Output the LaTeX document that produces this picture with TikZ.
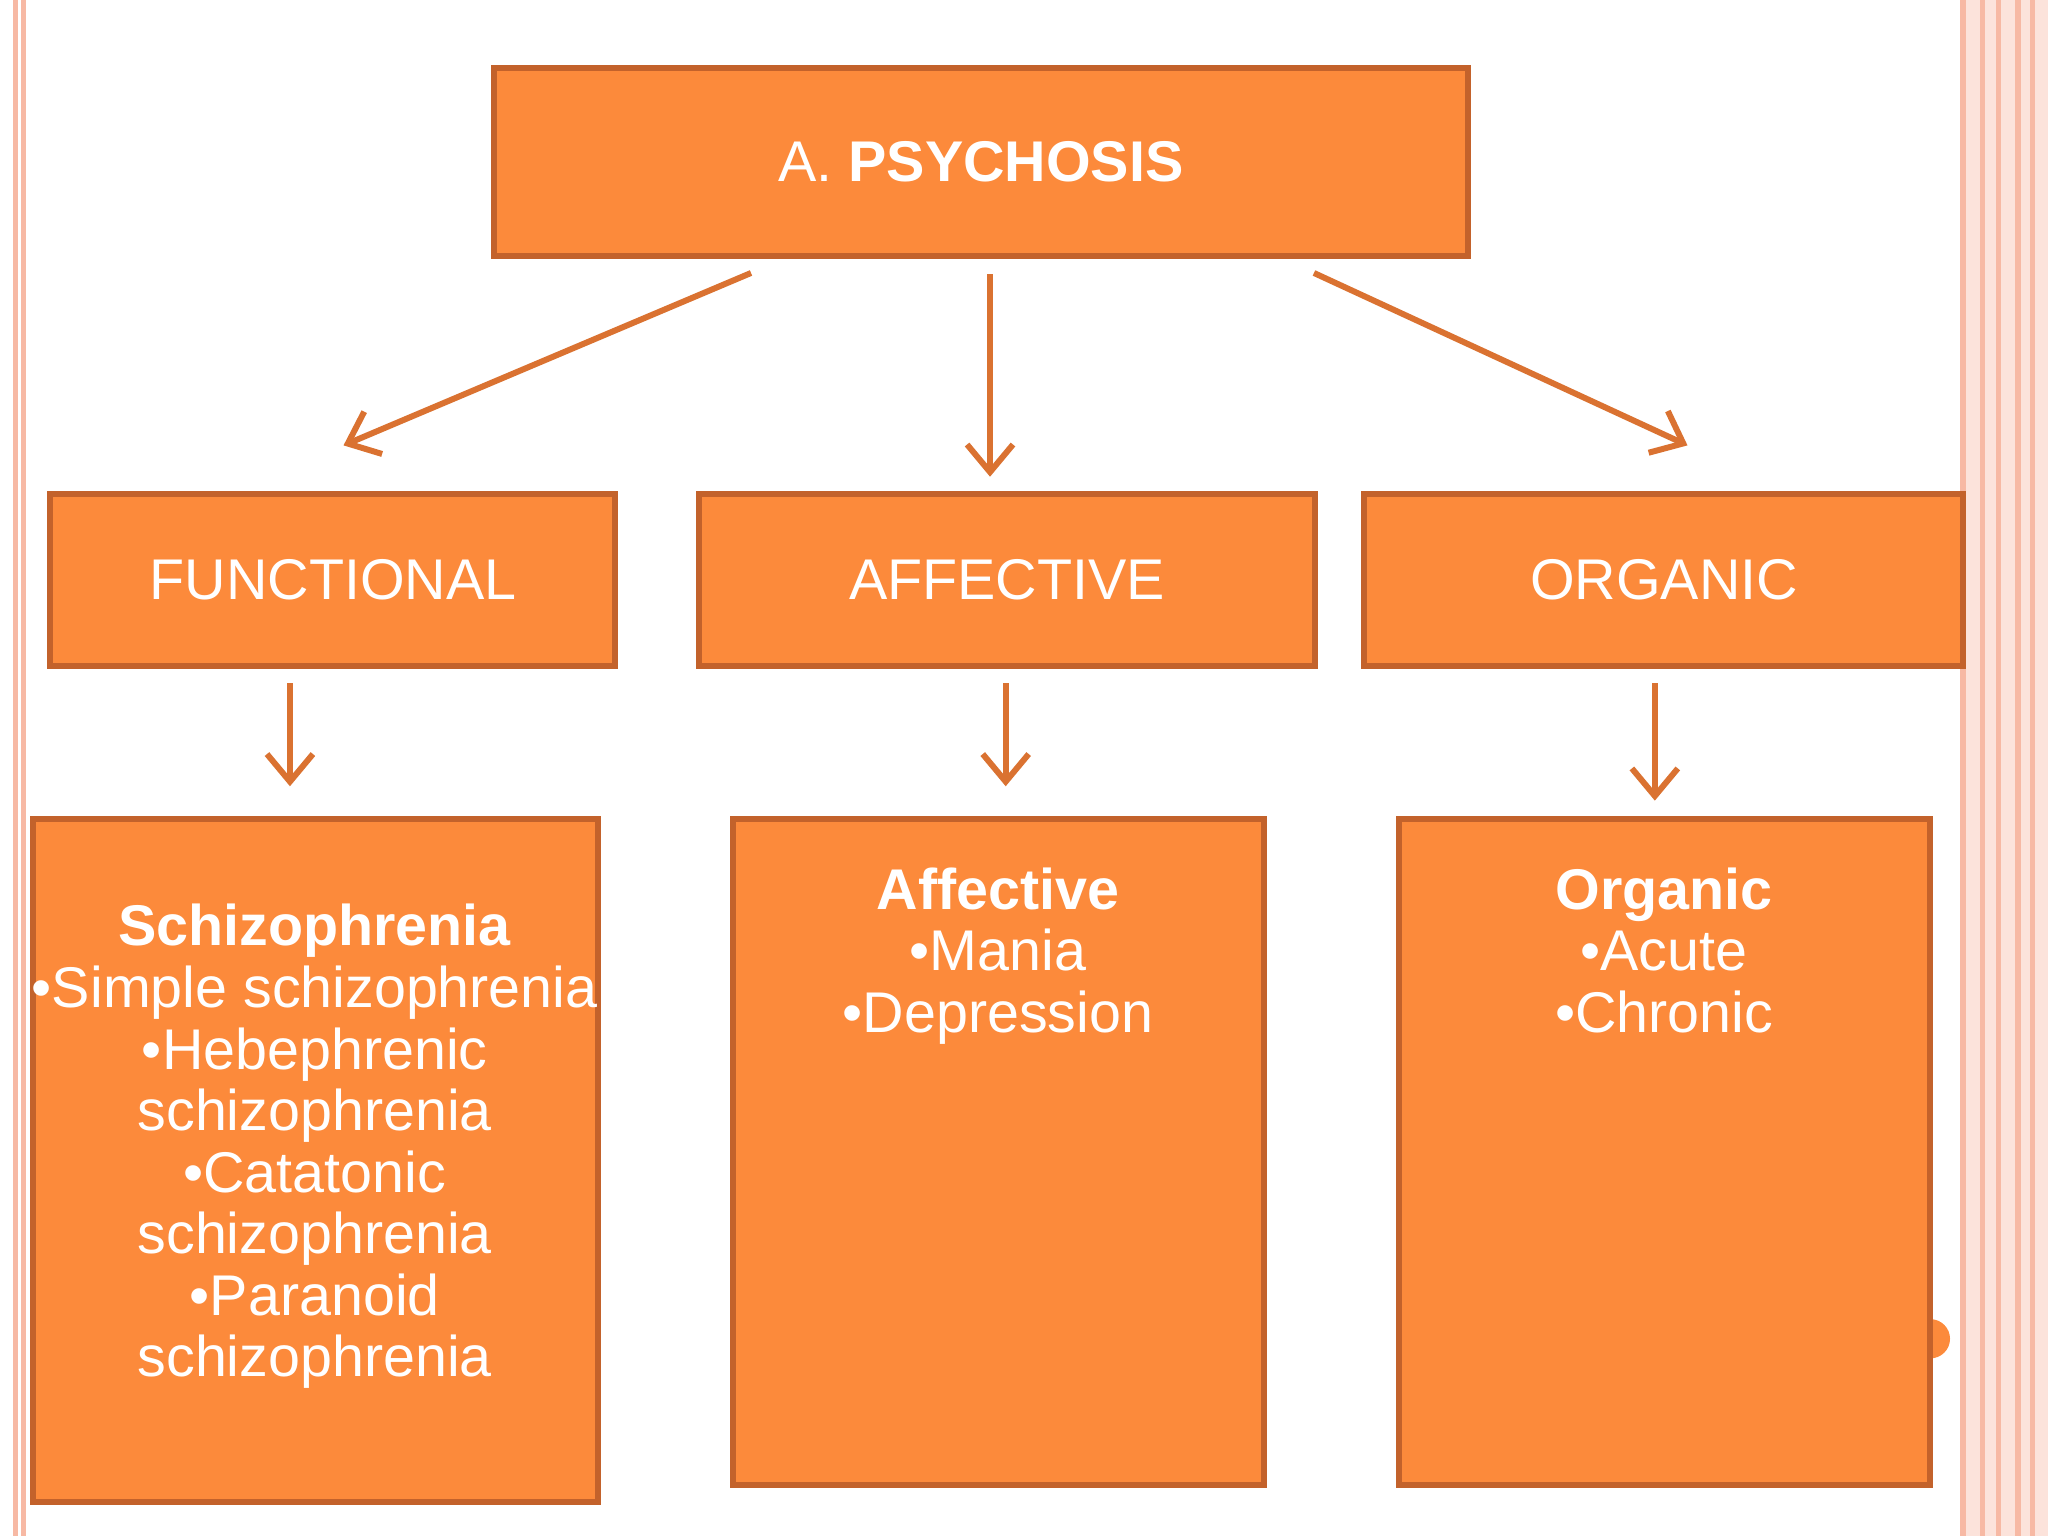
\documentclass[tikz,border=0pt]{standalone}
\usepackage{fontspec}
\setmainfont{Liberation Sans}
\usetikzlibrary{arrows.meta}
\definecolor{boxfill}{HTML}{FC8A3B}
\definecolor{boxline}{HTML}{C3622B}
\definecolor{stripe}{HTML}{F7B9A4}
\begin{document}
\begin{tikzpicture}[x=0.01cm,y=-0.01cm,
    box/.style={draw=boxline,line width=1.3pt,fill=boxfill},
    label/.style={text=white,font=\fontsize{12.5pt}{13.4pt}\selectfont,align=center},
    link/.style={draw=boxline!60!boxfill,line width=1.3pt,-{Straight Barb[length=6pt,width=10pt]}}]
  \useasboundingbox (0,0) rectangle (1568,1176);
  % page stripes
  \draw[stripe,line width=1pt] (12,0) -- (12,1176) (18,0) -- (18,1176);
  \fill[stripe!40] (1505,0) rectangle (1568,1176);
  \foreach \x in {1503,1518,1530,1545,1556}
    \draw[stripe,line width=1.2pt] (\x,0) -- (\x,1176);
  \fill[boxfill] (1478,1025) circle (15);
  % boxes
  \draw[box] (378,52) rectangle (1124,196);
  \node[label] (psy) at (751,124) {A. \textbf{PSYCHOSIS}};
  \draw[box] (38,378) rectangle (471,510);
  \node[label] (fun) at (255,444) {FUNCTIONAL};
  \draw[box] (535,378) rectangle (1007,510);
  \node[label] (aff) at (771,444) {AFFECTIVE};
  \draw[box] (1044,378) rectangle (1503,510);
  \node[label] (org) at (1274,444) {ORGANIC};
  \draw[box] (25,627) rectangle (458,1150);
  \node[label,anchor=north] (schl) at (241,680) {\textbf{Schizophrenia}\\\textbullet Simple schizophrenia\\\textbullet Hebephrenic\\schizophrenia\\\textbullet Catatonic\\schizophrenia\\\textbullet Paranoid\\schizophrenia};
  \draw[box] (561,627) rectangle (968,1137);
  \node[label,anchor=north] (affl) at (764,652) {\textbf{Affective}\\\textbullet Mania\\\textbullet Depression};
  \draw[box] (1071,627) rectangle (1478,1137);
  \node[label,anchor=north] (orgl) at (1274,652) {\textbf{Organic}\\\textbullet Acute\\\textbullet Chronic};
  % connectors
  \coordinate (l0) at (575,209); \coordinate (l1) at (263,341);
  \coordinate (m0) at (758,210); \coordinate (m1) at (758,365);
  \coordinate (r0) at (1006,209); \coordinate (r1) at (1292,341);
  \coordinate (a0) at (222,523); \coordinate (a1) at (222,602);
  \coordinate (b0) at (770,523); \coordinate (b1) at (770,602);
  \coordinate (c0) at (1267,523); \coordinate (c1) at (1267,613);
  \foreach \s/\e in {l0/l1,m0/m1,r0/r1,a0/a1,b0/b1,c0/c1}
    \draw[link] (\s) -- (\e);
\end{tikzpicture}
\end{document}
